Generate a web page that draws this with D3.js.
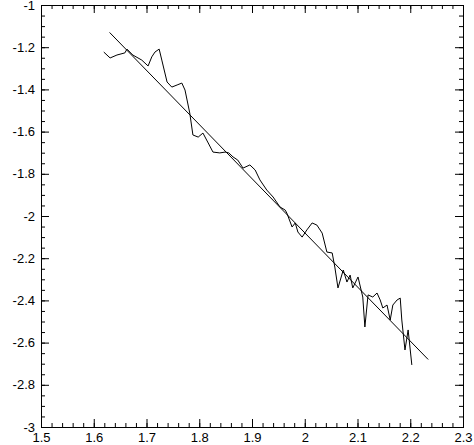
<!DOCTYPE html>
<html><head><meta charset="utf-8">
<script src="https://cdn.jsdelivr.net/npm/d3@7"></script>
<style>body{margin:0;background:#fff}</style></head>
<body><svg id="c" width="474" height="445"></svg>
<script>
const xTicks=[1.5,1.6,1.7,1.8,1.9,2,2.1,2.2,2.3];
const yTicks=[-3,-2.8,-2.6,-2.4,-2.2,-2,-1.8,-1.6,-1.4,-1.2,-1];
const dataX=[1.619,1.631,1.644,1.659,1.663,1.674,1.691,1.703,1.710,1.716,1.724,1.729,1.739,1.748,1.758,1.767,1.773,1.782,1.788,1.798,1.807,1.817,1.826,1.839,1.849,1.856,1.864,1.873,1.883,1.896,1.906,1.915,1.928,1.940,1.953,1.963,1.966,1.976,1.982,1.987,1.995,2.004,2.014,2.023,2.033,2.042,2.052,2.057,2.063,2.073,2.080,2.086,2.091,2.101,2.110,2.114,2.120,2.129,2.137,2.143,2.148,2.156,2.162,2.167,2.175,2.181,2.184,2.190,2.196,2.203];
const dataY=[-1.223,-1.251,-1.237,-1.227,-1.209,-1.237,-1.261,-1.289,-1.246,-1.223,-1.209,-1.261,-1.365,-1.389,-1.379,-1.370,-1.403,-1.512,-1.616,-1.626,-1.607,-1.654,-1.697,-1.701,-1.697,-1.701,-1.720,-1.735,-1.773,-1.758,-1.782,-1.829,-1.877,-1.910,-1.957,-1.972,-1.986,-2.052,-2.033,-2.076,-2.100,-2.066,-2.033,-2.043,-2.081,-2.171,-2.175,-2.242,-2.341,-2.256,-2.313,-2.280,-2.341,-2.289,-2.384,-2.526,-2.374,-2.384,-2.365,-2.398,-2.436,-2.422,-2.493,-2.422,-2.398,-2.389,-2.493,-2.635,-2.540,-2.706];
const fitX=[1.63,2.234];
const fitY=[-1.13,-2.68];

const svg=d3.select("#c");
const L=41,R=463,T=5,B=427;
const x=d3.scaleLinear().domain([1.5,2.3]).range([L,R]);
const y=d3.scaleLinear().domain([-3,-1]).range([B,T]);
const fmt=d=>String(d);
const xMinor=d3.range(75).map(i=>1.5+i*0.02).filter(v=>v<=2.3001);
const yMinor=d3.range(41).map(i=>-3+i*0.05);
function axis(g,ax){g.call(ax);g.select(".domain").attr("stroke","#000");g.selectAll("line").attr("stroke","#000");g.selectAll("text").attr("font-family","Liberation Sans, sans-serif").attr("font-size",13).attr("fill","#000");}
svg.append("g").attr("transform",`translate(0,${B})`).call(g=>axis(g,d3.axisTop(x).tickValues(xMinor).tickSize(4).tickFormat("")));
svg.append("g").attr("transform",`translate(0,${T})`).call(g=>axis(g,d3.axisBottom(x).tickValues(xMinor).tickSize(4).tickFormat("")));
svg.append("g").attr("transform",`translate(${L},0)`).call(g=>axis(g,d3.axisRight(y).tickValues(yMinor).tickSize(4).tickFormat("")));
svg.append("g").attr("transform",`translate(${R},0)`).call(g=>axis(g,d3.axisLeft(y).tickValues(yMinor).tickSize(4).tickFormat("")));
svg.append("g").attr("transform",`translate(0,${B})`).call(g=>axis(g,d3.axisTop(x).tickValues(xTicks).tickSize(8).tickFormat("")));
svg.append("g").attr("transform",`translate(0,${T})`).call(g=>axis(g,d3.axisBottom(x).tickValues(xTicks).tickSize(8).tickFormat("")));
svg.append("g").attr("transform",`translate(${L},0)`).call(g=>axis(g,d3.axisRight(y).tickValues(yTicks).tickSize(8).tickFormat("")));
svg.append("g").attr("transform",`translate(${R},0)`).call(g=>axis(g,d3.axisLeft(y).tickValues(yTicks).tickSize(8).tickFormat("")));
svg.append("g").attr("transform",`translate(0,${B})`).call(g=>{axis(g,d3.axisBottom(x).tickValues(xTicks).tickSize(0).tickPadding(6).tickFormat(fmt));g.select(".domain").remove();});
svg.append("g").attr("transform",`translate(${L},0)`).call(g=>{axis(g,d3.axisLeft(y).tickValues(yTicks).tickSize(0).tickPadding(6).tickFormat(fmt));g.select(".domain").remove();});
svg.append("path").datum(fitX.map((v,i)=>[v,fitY[i]])).attr("d",d3.line().x(d=>x(d[0])).y(d=>y(d[1]))).attr("fill","none").attr("stroke","#000").attr("stroke-width",1);
svg.append("path").datum(dataX.map((v,i)=>[v,dataY[i]])).attr("d",d3.line().x(d=>x(d[0])).y(d=>y(d[1]))).attr("fill","none").attr("stroke","#000").attr("stroke-width",1);
</script></body></html>
